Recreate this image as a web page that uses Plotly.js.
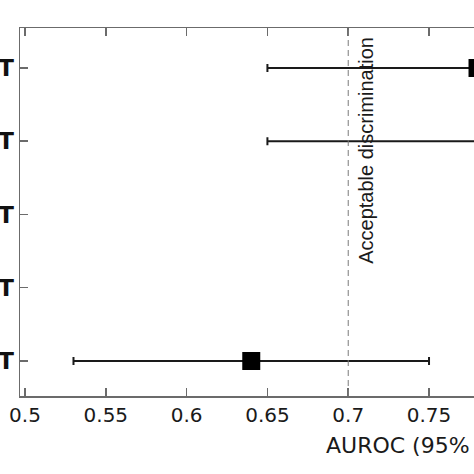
<!DOCTYPE html>
<html>
<head>
<meta charset="utf-8">
<script src="https://cdn.plot.ly/plotly-3.0.1.min.js"></script>
<style>
  html, body { margin: 0; padding: 0; overflow: hidden; background: #fff; }
  #myPlot { width: 830px; height: 474px; }
</style>
</head>
<body>
<div id="myPlot"></div>
<script>
// rows, top to bottom (only the last letter of each label is in view)
let rows = [1, 2, 3, 4, 5];
let rowLabels = ["T", "T", "T", "T", "T"];
let auroc = [0.78, 0.83, 0.88, 0.86, 0.64];
let ciLow = [0.65, 0.65, 0.80, 0.79, 0.53];
let ciHigh = [0.90, 0.97, 0.95, 0.93, 0.75];
let xTicks = [0.5, 0.55, 0.6, 0.65, 0.7, 0.75, 0.8, 0.85, 0.9, 0.95];
let threshold = 0.7;

let errPlus = auroc.map((v, i) => ciHigh[i] - v);
let errMinus = auroc.map((v, i) => v - ciLow[i]);

let data1 = [{
  x: auroc,
  y: rows,
  type: "scatter",
  mode: "markers",
  marker: { symbol: "square", size: 18, color: "#000" },
  error_x: {
    type: "data",
    symmetric: false,
    array: errPlus,
    arrayminus: errMinus,
    color: "#1a1a1a",
    thickness: 2,
    width: 4
  },
  cliponaxis: false,
  showlegend: false
}];

let axisCol = "#6b6b6b";

let layout = {
  width: 830,
  height: 474,
  margin: { l: 20, r: 17, t: 28, b: 78 },
  paper_bgcolor: "#fff",
  plot_bgcolor: "#fff",
  font: { family: "DejaVu Sans", color: "#1a1a1a" },
  xaxis: {
    range: [0.4969, 0.9876],
    tickvals: xTicks,
    ticktext: xTicks.map(String),
    ticks: "inside",
    ticklen: 8,
    tickwidth: 1.5,
    tickcolor: axisCol,
    showline: true,
    linecolor: axisCol,
    linewidth: 1.5,
    mirror: "ticks",
    showgrid: false,
    zeroline: false,
    tickfont: { size: 20, color: "#1a1a1a" },
    title: { text: "AUROC (95% CI)", font: { size: 22, color: "#1a1a1a" }, standoff: 12 }
  },
  yaxis: {
    range: [5.478, 0.454],
    tickvals: rows,
    ticktext: rowLabels,
    ticks: "inside",
    ticklen: 8,
    tickwidth: 1.5,
    tickcolor: axisCol,
    showline: true,
    linecolor: axisCol,
    linewidth: 1.5,
    mirror: "ticks",
    showgrid: false,
    zeroline: false,
    ticklabelstandoff: 0,
    tickfont: { size: 23, color: "#111", weight: "bold" }
  },
  shapes: [{
    type: "line",
    xref: "x", yref: "paper",
    x0: threshold, x1: threshold, y0: 0, y1: 1,
    line: { color: "#7a7a7a", width: 1, dash: "6px,4px" }
  }],
  annotations: [{
    text: "Acceptable discrimination",
    xref: "x", yref: "paper",
    x: 0.7114, y: 0.668,
    xanchor: "center", yanchor: "middle",
    textangle: -90,
    showarrow: false,
    font: { family: "Liberation Sans", size: 20, color: "#1a1a1a" }
  }]
};

Plotly.newPlot("myPlot", data1, layout, { staticPlot: true });
</script>
</body>
</html>
